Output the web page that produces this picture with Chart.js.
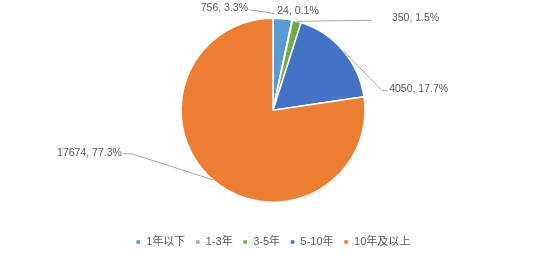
<!DOCTYPE html>
<html>
<head>
<meta charset="utf-8">
<script src="https://cdn.jsdelivr.net/npm/chart.js@4/dist/chart.umd.min.js"></script>
<style>
  html, body { margin: 0; padding: 0; background: #fff; }
  #wrap { width: 554px; height: 265px; }
</style>
</head>
<body>
<div id="wrap"><canvas id="canvas1" width="554" height="265"></canvas></div>
<script>
const labels = ['1年以下', '1-3年', '3-5年', '5-10年', '10年及以上'];
const counts = [756, 24, 350, 4050, 17674];
const colors = ['#5B9BD5', '#A5A5A5', '#70AD47', '#4472C4', '#ED7D31'];

// where each data label sits, relative to the middle of its slice's rim
const labelPos = [
    { dx: -34.5, dy: -10.5, align: 'right', line: [[-8, -5], [-33, -9]] },
    { dx: -15, dy: -9, align: 'left', line: null },
    { dx: 95, dy: -3, align: 'left', line: [[0, 0], [75, -1]] },
    { dx: 46, dy: 38.5, align: 'left', line: [[0, 0], [39, 40], [44, 40]] },
    { dx: -91, dy: -27, align: 'right', line: [[0, 0], [-81, -26], [-90, -26]] }
];

const total = counts.reduce((a, b) => a + b, 0);

const pieLabels = {
    id: 'pieLabels',
    afterDatasetsDraw(chart) {
        const ctx = chart.ctx;
        const meta = chart.getDatasetMeta(0);
        ctx.save();
        ctx.font = '10.5px "Liberation Sans", "Noto Sans CJK SC", sans-serif';
        ctx.fillStyle = '#595959';
        ctx.strokeStyle = '#A6A6A6';
        ctx.lineWidth = 1;
        ctx.textBaseline = 'middle';
        meta.data.forEach(function (arc, i) {
            const p = arc.getProps(['x', 'y', 'startAngle', 'endAngle', 'outerRadius'], true);
            const mid = (p.startAngle + p.endAngle) / 2;
            const px = p.x + Math.cos(mid) * p.outerRadius;
            const py = p.y + Math.sin(mid) * p.outerRadius;
            const pos = labelPos[i];
            if (pos.line) {
                ctx.beginPath();
                pos.line.forEach(function (pt, j) {
                    if (j === 0) ctx.moveTo(px + pt[0], py + pt[1]);
                    else ctx.lineTo(px + pt[0], py + pt[1]);
                });
                ctx.stroke();
            }
            const pct = (counts[i] / total * 100).toFixed(1);
            ctx.textAlign = pos.align;
            ctx.fillText(counts[i] + ', ' + pct + '%', px + pos.dx, py + pos.dy);
        });
        ctx.restore();
    }
};

const config = {
    type: 'pie',
    data: {
        labels: labels,
        datasets: [{
            data: counts,
            backgroundColor: colors,
            borderColor: '#ffffff',
            borderWidth: 1.5,
            radius: 92
        }]
    },
    options: {
        responsive: false,
        animation: false,
        layout: { padding: { top: 0, right: 8, bottom: 7.5, left: 0 } },
        plugins: {
            legend: {
                position: 'bottom',
                // empty title only used as a spacer above the legend row
                title: { display: true, text: ' ', font: { size: 1 }, padding: { top: 0, bottom: 5 } },
                labels: {
                    boxWidth: 5,
                    boxHeight: 5,
                    padding: 10,
                    color: '#595959',
                    font: { size: 11, family: '"Liberation Sans", "Noto Sans CJK SC", sans-serif' }
                }
            },
            tooltip: { enabled: false }
        }
    },
    plugins: [pieLabels]
};

const chart = new Chart(document.getElementById('canvas1'), config);
</script>
</body>
</html>
